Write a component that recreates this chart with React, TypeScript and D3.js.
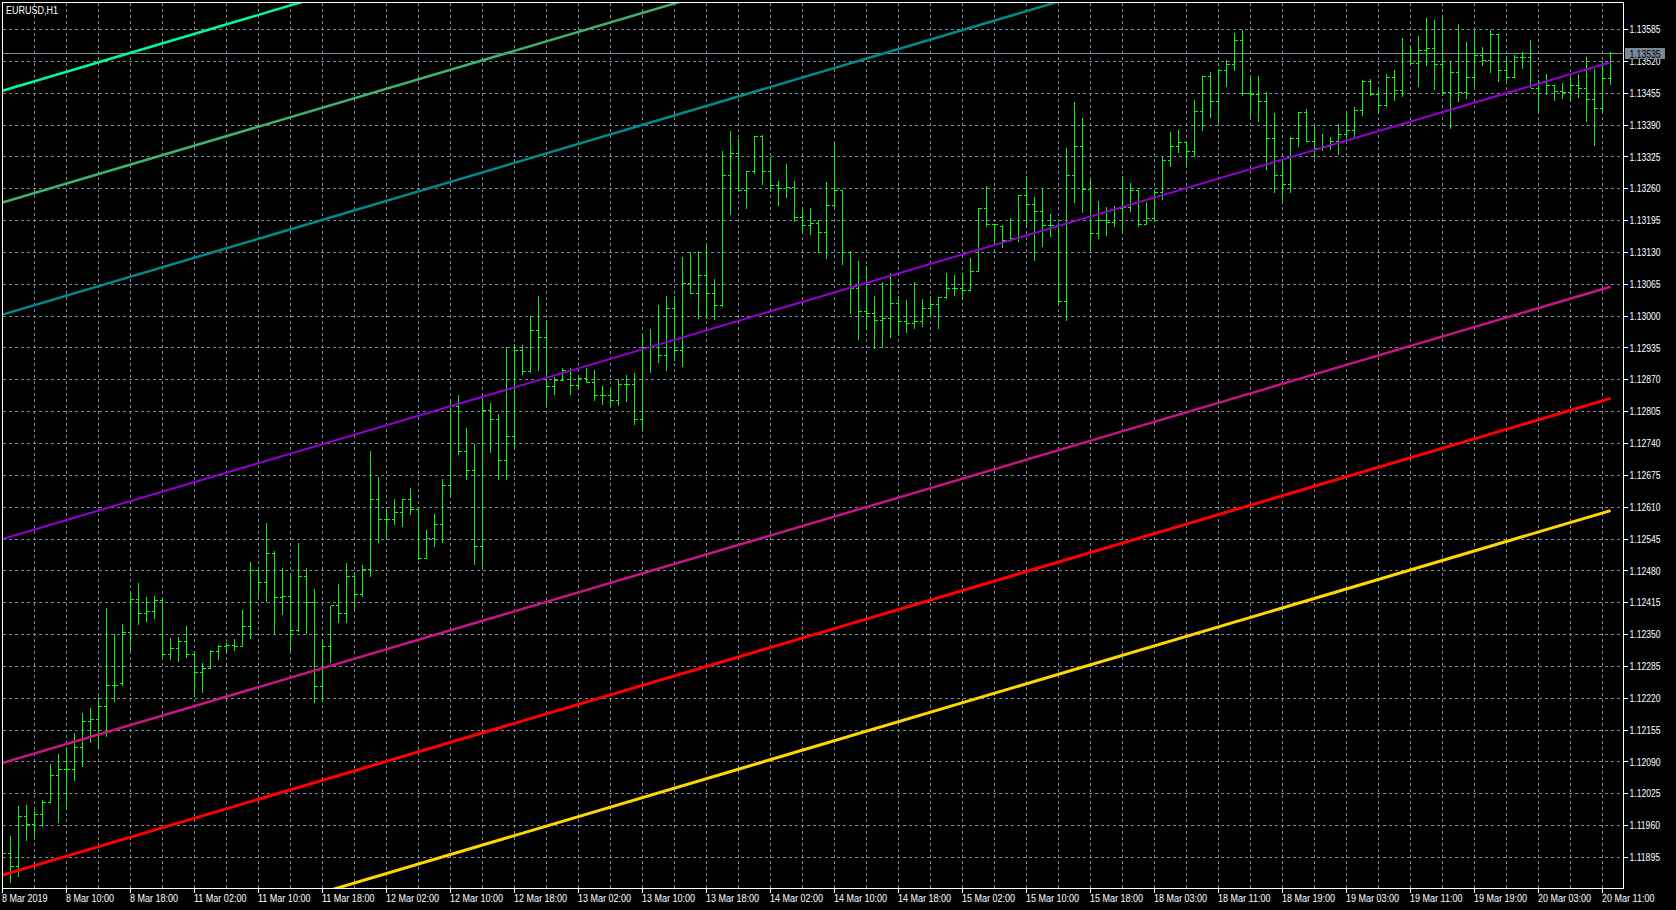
import React from "react";
import * as d3 from "d3";

const W = 1676;
const H = 910;

// EURUSD H1 bars (index 0 = 8 Mar 2019 02:00)
const opens = [
  1.11917, 1.11903, 1.11876, 1.11978, 1.11962, 1.11982, 1.12007, 1.12062, 1.12075, 1.12075,
  1.1212, 1.12173, 1.12177, 1.12203, 1.12246, 1.12251, 1.12354, 1.12422, 1.12393, 1.12398,
  1.1242, 1.12309, 1.12322, 1.12335, 1.12309, 1.12273, 1.1228, 1.12315, 1.12325, 1.12328,
  1.12325, 1.12366, 1.1248, 1.12456, 1.12516, 1.12426, 1.12427, 1.12359, 1.12468, 1.12416,
  1.12244, 1.12326, 1.12409, 1.12393, 1.12468, 1.12431, 1.12482, 1.12626, 1.12585, 1.12585,
  1.12599, 1.12626, 1.12605, 1.12505, 1.12546, 1.12574, 1.12654, 1.12816, 1.12723, 1.12685,
  1.12529, 1.12808, 1.12789, 1.12706, 1.12755, 1.1293, 1.12887, 1.12971, 1.12956, 1.12856,
  1.12869, 1.12888, 1.12858, 1.12873, 1.12865, 1.12837, 1.12837, 1.12827, 1.1286, 1.1286,
  1.12788, 1.12936, 1.12935, 1.1292, 1.13016, 1.1293, 1.13067, 1.13046, 1.13082, 1.13046,
  1.13022, 1.13287, 1.13331, 1.13257, 1.13296, 1.13367, 1.13296, 1.13267, 1.13261, 1.13262,
  1.13201, 1.13184, 1.13189, 1.13171, 1.13226, 1.13257, 1.13129, 1.13056, 1.1301, 1.13005,
  1.12992, 1.12995, 1.13026, 1.12988, 1.12985, 1.1299, 1.13016, 1.13023, 1.13037, 1.13056,
  1.13056, 1.13053, 1.13091, 1.13219, 1.13188, 1.13183, 1.13155, 1.13158, 1.13246, 1.13228,
  1.13214, 1.13185, 1.13185, 1.1303, 1.13288, 1.13347, 1.13258, 1.13169, 1.13196, 1.13192,
  1.13219, 1.13222, 1.13257, 1.13188, 1.13199, 1.13252, 1.13318, 1.13347, 1.13355, 1.13337,
  1.13418, 1.1349, 1.13438, 1.13502, 1.13514, 1.13563, 1.13454, 1.13453, 1.13438, 1.13363,
  1.13288, 1.13269, 1.13363, 1.13415, 1.13356, 1.13343, 1.13346, 1.13356, 1.1337, 1.13378,
  1.1342, 1.13479, 1.13452, 1.1343, 1.13487, 1.13461, 1.13537, 1.13516, 1.13543, 1.13546,
  1.13514, 1.13457, 1.13497, 1.13457, 1.13488, 1.13531, 1.13522, 1.13575, 1.13501, 1.13488,
  1.13528, 1.13528, 1.13465, 1.13477, 1.13471, 1.13458, 1.13457, 1.13471, 1.13465, 1.13443,
  1.13424, 1.13486,
];

const highs = [
  1.1193, 1.11939, 1.12, 1.12002, 1.1199, 1.12012, 1.12086, 1.12107, 1.12121, 1.1215,
  1.1219, 1.122, 1.12222, 1.12404, 1.12351, 1.12371, 1.12439, 1.12455, 1.12426, 1.12429,
  1.12427, 1.12343, 1.12346, 1.12367, 1.12317, 1.12292, 1.12318, 1.12328, 1.12332, 1.1234,
  1.12401, 1.12498, 1.1248, 1.12577, 1.1252, 1.12486, 1.12473, 1.12536, 1.12485, 1.12444,
  1.12341, 1.12409, 1.12454, 1.12497, 1.12477, 1.12491, 1.12724, 1.12671, 1.12609, 1.12627,
  1.12626, 1.1265, 1.12607, 1.12563, 1.12597, 1.12667, 1.12825, 1.12839, 1.12771, 1.12739,
  1.12832, 1.12823, 1.12801, 1.12936, 1.12944, 1.12942, 1.13, 1.13041, 1.12992, 1.12876,
  1.12895, 1.12894, 1.12876, 1.12895, 1.1289, 1.12857, 1.12856, 1.12871, 1.12879, 1.12884,
  1.12966, 1.12973, 1.13023, 1.13041, 1.13041, 1.1312, 1.1313, 1.13132, 1.13148, 1.13075,
  1.13336, 1.13378, 1.13362, 1.13296, 1.13368, 1.13369, 1.13325, 1.13275, 1.13311, 1.13275,
  1.13222, 1.1322, 1.13197, 1.13273, 1.13356, 1.13257, 1.13133, 1.13113, 1.13102, 1.13041,
  1.13069, 1.13087, 1.13041, 1.13033, 1.13069, 1.13035, 1.13042, 1.13038, 1.13087, 1.13084,
  1.13088, 1.13118, 1.1322, 1.13265, 1.13188, 1.13185, 1.132, 1.13248, 1.13286, 1.13244,
  1.1326, 1.13208, 1.1319, 1.13343, 1.13437, 1.13404, 1.13278, 1.13234, 1.13223, 1.13224,
  1.13287, 1.13271, 1.13258, 1.13233, 1.1326, 1.13324, 1.13375, 1.13379, 1.13355, 1.13442,
  1.13491, 1.13499, 1.13505, 1.13522, 1.13577, 1.13584, 1.13492, 1.1349, 1.13457, 1.13414,
  1.13317, 1.13366, 1.13416, 1.13422, 1.13388, 1.13371, 1.13366, 1.13393, 1.13416, 1.13426,
  1.13482, 1.13483, 1.13467, 1.13495, 1.13502, 1.13567, 1.13554, 1.13571, 1.13609, 1.13605,
  1.13608, 1.1352, 1.13597, 1.13559, 1.13585, 1.1355, 1.13585, 1.13575, 1.13531, 1.13532,
  1.13539, 1.13563, 1.13482, 1.13495, 1.13471, 1.13475, 1.13492, 1.13495, 1.13528, 1.13505,
  1.1352, 1.1354,
];

const lows = [
  1.1189, 1.11843, 1.11856, 1.11929, 1.1193, 1.11958, 1.12007, 1.11965, 1.11992, 1.12052,
  1.1208, 1.12129, 1.12118, 1.1214, 1.12213, 1.12245, 1.12317, 1.1237, 1.12376, 1.12381,
  1.12305, 1.12298, 1.12295, 1.12303, 1.12223, 1.12231, 1.12279, 1.12299, 1.12312, 1.12316,
  1.12325, 1.12341, 1.1242, 1.12416, 1.12351, 1.12389, 1.12317, 1.12356, 1.12351, 1.12211,
  1.12213, 1.12291, 1.12374, 1.12374, 1.124, 1.12427, 1.12467, 1.12536, 1.12546, 1.12573,
  1.12569, 1.12594, 1.12503, 1.12505, 1.12528, 1.12537, 1.12631, 1.12717, 1.12665, 1.12492,
  1.12485, 1.12721, 1.12665, 1.12665, 1.12729, 1.12879, 1.12883, 1.12887, 1.12813, 1.12839,
  1.12868, 1.12839, 1.12853, 1.12864, 1.12827, 1.12819, 1.12816, 1.12816, 1.12825, 1.12777,
  1.12766, 1.12883, 1.12905, 1.12888, 1.12909, 1.12896, 1.13046, 1.12994, 1.12994, 1.12993,
  1.13018, 1.13207, 1.13257, 1.13219, 1.13291, 1.13267, 1.13254, 1.13224, 1.13241, 1.13193,
  1.13169, 1.13166, 1.13128, 1.13116, 1.13222, 1.13105, 1.13004, 1.12952, 1.12971, 1.12933,
  1.12935, 1.12956, 1.1296, 1.12965, 1.12974, 1.12978, 1.13, 1.12973, 1.13035, 1.13041,
  1.13033, 1.13053, 1.1309, 1.13181, 1.13147, 1.13139, 1.13152, 1.13151, 1.13182, 1.13113,
  1.13141, 1.13162, 1.13022, 1.1299, 1.13231, 1.13211, 1.13133, 1.13158, 1.13163, 1.13182,
  1.1317, 1.13212, 1.13182, 1.13185, 1.13193, 1.13237, 1.13305, 1.13333, 1.13309, 1.13325,
  1.13378, 1.13404, 1.13392, 1.13467, 1.13501, 1.13449, 1.13407, 1.13396, 1.13298, 1.13252,
  1.13235, 1.13252, 1.13346, 1.13355, 1.13322, 1.13337, 1.13339, 1.13328, 1.13359, 1.13365,
  1.13408, 1.13449, 1.13412, 1.13427, 1.13439, 1.13448, 1.13516, 1.13467, 1.13511, 1.13461,
  1.13454, 1.13381, 1.13438, 1.13443, 1.13465, 1.13511, 1.13497, 1.13477, 1.1348, 1.13487,
  1.13505, 1.13465, 1.13418, 1.13452, 1.13439, 1.13443, 1.13439, 1.13446, 1.13397, 1.13348,
  1.13414, 1.13471,
];

const closes = [
  1.11903, 1.11876, 1.11978, 1.11962, 1.11982, 1.12007, 1.12062, 1.12075, 1.12075, 1.1212,
  1.12173, 1.12177, 1.12203, 1.12246, 1.12246, 1.12354, 1.12422, 1.12393, 1.12398, 1.1242,
  1.12309, 1.12322, 1.12335, 1.12309, 1.12273, 1.1228, 1.12315, 1.12325, 1.12328, 1.12325,
  1.12366, 1.1248, 1.12456, 1.12516, 1.12426, 1.12427, 1.12359, 1.12468, 1.12416, 1.12244,
  1.12326, 1.12409, 1.12393, 1.12468, 1.12431, 1.12482, 1.12626, 1.12585, 1.12585, 1.12599,
  1.12626, 1.12605, 1.12505, 1.12546, 1.12574, 1.12654, 1.12816, 1.12723, 1.12685, 1.12529,
  1.12808, 1.12789, 1.12706, 1.12755, 1.1293, 1.12887, 1.12971, 1.12956, 1.12856, 1.12869,
  1.12888, 1.12858, 1.12873, 1.12865, 1.12837, 1.12837, 1.12827, 1.1286, 1.1286, 1.12788,
  1.12936, 1.12935, 1.1292, 1.13016, 1.1293, 1.13067, 1.13046, 1.13082, 1.13046, 1.13022,
  1.13287, 1.13331, 1.13257, 1.13296, 1.13367, 1.13296, 1.13267, 1.13261, 1.13262, 1.13201,
  1.13184, 1.13189, 1.13171, 1.13226, 1.13257, 1.13129, 1.13056, 1.1301, 1.13005, 1.12992,
  1.12995, 1.13026, 1.12988, 1.12985, 1.1299, 1.13016, 1.13023, 1.13037, 1.13056, 1.13056,
  1.13053, 1.13091, 1.13219, 1.13188, 1.13186, 1.13155, 1.13158, 1.13246, 1.13228, 1.13214,
  1.13185, 1.13185, 1.1303, 1.13288, 1.13347, 1.13258, 1.13169, 1.13196, 1.13192, 1.13219,
  1.13222, 1.13257, 1.13188, 1.13199, 1.13252, 1.13318, 1.13347, 1.13355, 1.13337, 1.13418,
  1.1349, 1.13438, 1.13502, 1.13514, 1.13563, 1.13454, 1.13453, 1.13438, 1.13363, 1.13288,
  1.13269, 1.13363, 1.13415, 1.13356, 1.13343, 1.13346, 1.13356, 1.1337, 1.13378, 1.1342,
  1.13479, 1.13452, 1.1343, 1.13487, 1.13461, 1.13537, 1.13516, 1.13543, 1.13546, 1.13514,
  1.13457, 1.13497, 1.13457, 1.13488, 1.13531, 1.13522, 1.13575, 1.13501, 1.13488, 1.13528,
  1.13528, 1.13465, 1.13477, 1.13471, 1.13458, 1.13457, 1.13471, 1.13465, 1.13443, 1.13424,
  1.13486, 1.13535,
];

// Time axis labels, one every 8 bars
const timeLabels = [
  "8 Mar 2019", "8 Mar 10:00", "8 Mar 18:00", "11 Mar 02:00", "11 Mar 10:00", "11 Mar 18:00",
  "12 Mar 02:00", "12 Mar 10:00", "12 Mar 18:00", "13 Mar 02:00", "13 Mar 10:00", "13 Mar 18:00",
  "14 Mar 02:00", "14 Mar 10:00", "14 Mar 18:00", "15 Mar 02:00", "15 Mar 10:00", "15 Mar 18:00",
  "18 Mar 03:00", "18 Mar 11:00", "18 Mar 19:00", "19 Mar 03:00", "19 Mar 11:00", "19 Mar 19:00",
  "20 Mar 03:00", "20 Mar 11:00",
];

// Price axis labels
const priceLabels = [
  "1.13585", "1.13520", "1.13455", "1.13390", "1.13325", "1.13260", "1.13195", "1.13130",
  "1.13065", "1.13000", "1.12935", "1.12870", "1.12805", "1.12740", "1.12675", "1.12610",
  "1.12545", "1.12480", "1.12415", "1.12350", "1.12285", "1.12220", "1.12155", "1.12090",
  "1.12025", "1.11960", "1.11895",
];

// Channel lines: price at first bar and at last bar
const channelStart = [1.1346, 1.13232, 1.13003, 1.12545, 1.12088, 1.11859, 1.1163];
const channelEnd = [1.14433, 1.14204, 1.13976, 1.13518, 1.1306, 1.12832, 1.12603];
const channelColors = ["#00FA9A", "#3CB371", "#008B8B", "#9400D3", "#C71585", "#FF0000", "#FFD700"];
const channelWidths = [2.5, 2.5, 2.5, 2, 2.5, 3, 3];

const bidPrice = 1.13535;
const symbolTitle = "EURUSD,H1";

const FONT = "'Liberation Sans', Arial, sans-serif";
const SX = 0.82;

export default function App() {
  const n = opens.length;
  const plotL = 2.5, plotT = 2.5, plotR = 1623.5, plotB = 888.5;
  const x = d3.scaleLinear().domain([0, n - 1]).range([2.5, 2.5 + 8 * (n - 1)]);
  const y = d3.scaleLinear().domain([1.11895, 1.13585]).range([857.5, 29.5]);
  const levels = priceLabels.map((s) => +s);
  const gridBars = d3.range(4, n, 4);
  const labelBars = timeLabels.map((_, i) => i * 8);
  const grid = "#778899";
  const green = "#00FF00";
  const lineGen = d3.line<[number, number]>().x((d) => x(d[0])).y((d) => y(d[1]));

  return (
    <div style={{ position: "fixed", left: 0, top: 0, width: W, height: H, background: "#000" }}>
      <svg width={W} height={H} style={{ display: "block" }}>
        <defs>
          <clipPath id="plot">
            <rect x={plotL} y={plotT} width={plotR - plotL} height={plotB - plotT} />
          </clipPath>
        </defs>
        <rect x={0} y={0} width={W} height={H} fill="#000" />
        <g clipPath="url(#plot)">
          {levels.map((lv, i) => (
            <line key={"h" + i} x1={plotL} x2={plotR} y1={y(lv)} y2={y(lv)} stroke={grid}
              strokeWidth={1} strokeDasharray="3,3" shapeRendering="crispEdges" />
          ))}
          {gridBars.map((b) => (
            <line key={"v" + b} x1={x(b)} x2={x(b)} y1={plotT} y2={plotB} stroke={grid}
              strokeWidth={1} strokeDasharray="3,3" shapeRendering="crispEdges" />
          ))}
          <line x1={plotL} x2={plotR} y1={y(bidPrice)} y2={y(bidPrice)} stroke={grid} strokeWidth={1}
            shapeRendering="crispEdges" />
          {opens.map((o, i) => {
            const cx = x(i);
            return (
              <g key={"b" + i} stroke={green} strokeWidth={1} shapeRendering="crispEdges">
                <line x1={cx} x2={cx} y1={y(highs[i])} y2={y(lows[i])} />
                <line x1={cx - 3} x2={cx} y1={y(o)} y2={y(o)} />
                <line x1={cx} x2={cx + 3.5} y1={y(closes[i])} y2={y(closes[i])} />
              </g>
            );
          })}
          {channelStart.map((s, i) => (
            <path key={"c" + i} d={lineGen([[0, s], [n - 1, channelEnd[i]]]) || ""} fill="none"
              stroke={channelColors[i]} strokeWidth={channelWidths[i]} />
          ))}
        </g>
        <rect x={plotL} y={plotT} width={plotR - plotL} height={plotB - plotT} fill="none" stroke="#fff"
          strokeWidth={1} shapeRendering="crispEdges" />
        <text transform={`translate(6,13.5) scale(${SX},1)`} fill="#fff" fontFamily={FONT} fontSize={11}>
          {symbolTitle}
        </text>
        {levels.map((lv, i) => (
          <g key={"pl" + i}>
            <line x1={plotR} x2={plotR + 4} y1={y(lv)} y2={y(lv)} stroke="#fff" shapeRendering="crispEdges" />
            <text transform={`translate(${plotR + 6},${y(lv)}) scale(${SX},1)`} dy="0.35em" fill="#fff"
              fontFamily={FONT} fontSize={10.5}>
              {priceLabels[i]}
            </text>
          </g>
        ))}
        <rect x={1625} y={48} width={40} height={11} fill={grid} />
        <text transform={`translate(1645,${y(bidPrice)}) scale(${SX},1)`} dy="0.35em" textAnchor="middle"
          fill="#000" fontFamily={FONT} fontSize={10.5}>{bidPrice.toFixed(5)}</text>
        {labelBars.map((b, i) => (
          <g key={"tl" + i}>
            <line x1={x(b)} x2={x(b)} y1={plotB} y2={plotB + 4} stroke="#fff" shapeRendering="crispEdges" />
            <text transform={`translate(${x(b) - 0.5},902) scale(${SX},1)`} fill="#fff" fontFamily={FONT}
              fontSize={11}>{timeLabels[i]}</text>
          </g>
        ))}
      </svg>
    </div>
  );
}
